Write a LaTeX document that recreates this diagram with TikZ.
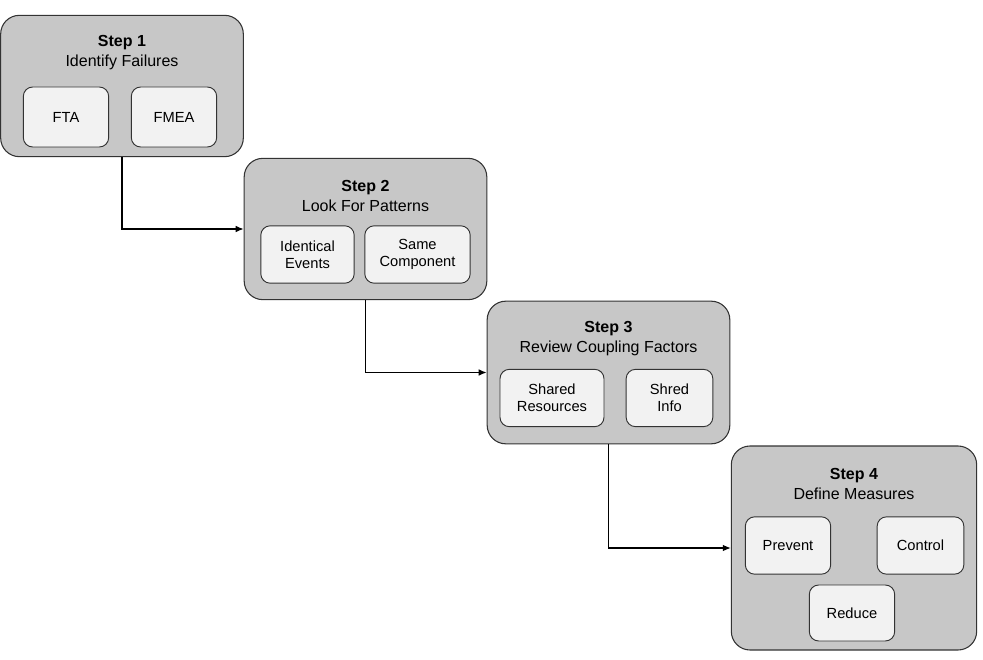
\documentclass[tikz,border=0pt]{standalone}
\usepackage{fontspec}
\setmainfont{Liberation Sans}
\usetikzlibrary{arrows.meta}
\tikzset{
  stage/.style={draw=black!80, fill=black!22, rounded corners=14pt, line width=0.8pt, inner sep=0pt},
  item/.style={draw=black!80, fill=black!5, rounded corners=7pt, line width=0.7pt, align=center, font=\fontsize{11}{13}\selectfont, inner sep=0pt},
  title/.style={align=center, font=\fontsize{12}{15}\selectfont},
  flow/.style={-{Latex[length=6pt,width=5pt]}, line width=0.9pt}
}
\begin{document}
\begin{tikzpicture}[x=0.75pt,y=-0.75pt]
        \useasboundingbox (0,0) rectangle (983,660);
        % stage boxes
        \node [stage, minimum width=182pt, minimum height=106pt] (s1) at (122,86) {};
        \node [stage, minimum width=182pt, minimum height=106pt] (s2) at (365.5,229) {};
        \node [stage, minimum width=182pt, minimum height=107pt] (s3) at (608.5,372.5) {};
        \node [stage, minimum width=184pt, minimum height=153pt] (s4) at (854,548) {};
        % titles
        \node [title] at (122,53) {\textbf{Step 1}\\Identify Failures};
        \node [title] at (365.5,196) {\textbf{Step 2}\\Look For Patterns};
        \node [title] at (608.5,339) {\textbf{Step 3}\\Review Coupling Factors};
        \node [title] at (854,484) {\textbf{Step 4}\\Define Measures};
        % items
        \node [item, minimum width=64pt, minimum height=45pt] (fta) at (66,117) {FTA};
        \node [item, minimum width=64pt, minimum height=45pt] (fmea) at (174,117) {FMEA};
        \node [item, minimum width=70pt, minimum height=43pt] (ident) at (307.5,254.5) {Identical\\Events};
        \node [item, minimum width=79pt, minimum height=43pt] (same) at (417.5,254.5) {Same\\Component};
        \node [item, minimum width=78pt, minimum height=43pt] (shared) at (552,398) {Shared\\Resources};
        \node [item, minimum width=65pt, minimum height=43pt] (shred) at (669.5,398) {Shred\\Info};
        \node [item, minimum width=64pt, minimum height=43pt] (prevent) at (788,545.5) {Prevent};
        \node [item, minimum width=65pt, minimum height=43pt] (control) at (920.5,545.5) {Control};
        \node [item, minimum width=64pt, minimum height=42pt] (reduce) at (852,613) {Reduce};
        % flow
        \draw [flow] (s1.south) |- (s2.west);
        \draw [flow] (s2.south) |- (s3.west);
        \draw [flow] (s3.south) |- (s4.west);
\end{tikzpicture}
\end{document}
